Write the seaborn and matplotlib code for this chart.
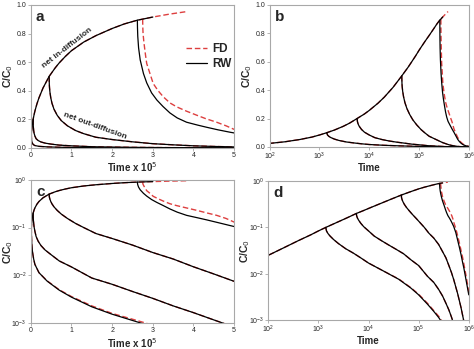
import pandas as pd
import matplotlib
matplotlib.use("Agg")
import matplotlib.pyplot as plt
import seaborn as sns
from matplotlib.lines import Line2D
from matplotlib.ticker import NullLocator

# === Data (time, C/C0) ===
# net in-diffusion (RW)
in_t = [0.2, 1, 10, 30, 100, 200, 400, 700, 1000, 1400, 2000, 3000, 4000, 5700, 8000,
        1.0e4, 1.5e4, 2.0e4, 3.0e4, 4.5e4, 6.0e4, 7.0e4, 8.5e4, 1.0e5, 1.3e5, 1.6e5,
        2.0e5, 2.3e5, 2.62e5, 3.0e5]
in_c = [0.0011, 0.0023, 0.0075, 0.0133, 0.025, 0.036, 0.052, 0.069, 0.084, 0.100, 0.119,
        0.145, 0.167, 0.200, 0.232, 0.257, 0.308, 0.350, 0.419, 0.500, 0.560, 0.595,
        0.640, 0.680, 0.740, 0.785, 0.835, 0.867, 0.893, 0.915]
# FD in-diffusion runs a little longer
fd_in_t = in_t + [3.4e5, 3.83e5]
fd_in_c = in_c + [0.935, 0.953]

# out-diffusion branch 1 (stops at C = 0.1)
b1_t = [1400, 1450, 1550, 1700, 2000, 2500, 3500, 5000, 7000, 1.0e4, 2.0e4, 4.0e4, 7.0e4,
        1.0e5, 1.5e5, 2.0e5, 2.5e5, 2.8e5, 3.0e5, 5.0e5, 1.0e6]
b1_c = [0.100, 0.084, 0.074, 0.0655, 0.055, 0.045, 0.0347, 0.0278, 0.022, 0.017, 0.0114,
        0.0076, 0.0049, 0.0035, 0.0022, 0.00154, 0.00114, 0.00095, 0.00085, 0.0002, 0.00001]
fd1_c = [0.100, 0.084, 0.074, 0.0655, 0.055, 0.045, 0.0347, 0.0278, 0.022, 0.017, 0.0114,
         0.0077, 0.0050, 0.0036, 0.0023, 0.0016, 0.00121, 0.00102, 0.0009, 0.0002, 0.00001]

# branch 2 (stops at C = 0.2)
b2_t = [5700, 5800, 6000, 6300, 7000, 8000, 1.0e4, 1.3e4, 1.8e4, 2.5e4, 3.5e4, 5.0e4, 7.0e4,
        1.0e5, 1.5e5, 2.0e5, 2.5e5, 3.0e5, 3.5e5, 4.0e5, 4.5e5, 5.0e5, 6.0e5, 1.0e6]
b2_c = [0.200, 0.177, 0.160, 0.145, 0.123, 0.104, 0.084, 0.065, 0.052, 0.042, 0.034, 0.027,
        0.020, 0.015, 0.0088, 0.0065, 0.0046, 0.0033, 0.0023, 0.00166, 0.00117, 0.00083,
        0.00041, 0.00001]

# branch 3 (stops at C = 0.5)
b3_t = [4.5e4, 4.55e4, 4.6e4, 4.7e4, 4.9e4, 5.2e4, 5.7e4, 6.5e4, 7.5e4, 9.0e4, 1.1e5, 1.3e5,
        1.6e5, 2.0e5, 2.5e5, 3.0e5, 3.5e5, 4.0e5, 4.5e5, 5.0e5, 6.0e5, 7.0e5, 8.0e5, 9.0e5,
        1.0e6]
b3_c = [0.500, 0.444, 0.421, 0.391, 0.352, 0.313, 0.271, 0.228, 0.191, 0.155, 0.122, 0.100,
        0.075, 0.059, 0.043, 0.030, 0.022, 0.0151, 0.0107, 0.0075, 0.0037, 0.00186, 0.00092,
        0.00046, 0.00023]

# branch 4 (stops at C = 0.9), RW and FD differ here
b4_t = [2.62e5, 2.623e5, 2.63e5, 2.65e5, 2.69e5, 2.77e5, 2.85e5, 2.97e5, 3.1e5, 3.25e5,
        3.42e5, 3.6e5, 3.83e5, 4.1e5, 4.32e5, 4.6e5, 4.9e5, 5.0e5, 5.5e5, 6.0e5, 6.5e5,
        7.0e5, 7.5e5, 8.0e5, 9.0e5, 1.0e6]
b4_c = [0.893, 0.84, 0.78, 0.70, 0.615, 0.52, 0.455, 0.385, 0.335, 0.29, 0.245, 0.21, 0.18,
        0.16, 0.145, 0.127, 0.11, 0.105, 0.078, 0.053, 0.037, 0.026, 0.018, 0.013, 0.0065,
        0.0035]
fd4_t = [2.75e5, 2.753e5, 2.76e5, 2.78e5, 2.82e5, 2.85e5, 2.93e5, 3.01e5, 3.13e5, 3.26e5,
         3.42e5, 3.59e5, 3.83e5, 4.08e5, 4.3e5, 4.57e5, 4.8e5, 5.0e5, 5.5e5, 6.0e5, 6.5e5,
         7.0e5, 7.5e5, 8.0e5, 9.0e5, 1.0e6]
fd4_c = [0.90, 0.85, 0.80, 0.74, 0.65, 0.59, 0.52, 0.45, 0.40, 0.357, 0.315, 0.287, 0.257,
         0.229, 0.205, 0.18, 0.155, 0.13, 0.095, 0.066, 0.046, 0.032, 0.023, 0.016, 0.008,
         0.004]

# === Long table ===
rows = []
def add(model, name, ts, cs):
    for t, c in zip(ts, cs):
        rows.append({"model": model, "curve": name, "time": t, "conc": c})

add("FD", "in", fd_in_t, fd_in_c)
add("FD", "b1", b1_t, fd1_c)
add("FD", "b2", b2_t, b2_c)
add("FD", "b3", b3_t, b3_c)
add("FD", "b4", fd4_t, fd4_c)
add("RW", "in", in_t, in_c)
add("RW", "b1", b1_t, b1_c)
add("RW", "b2", b2_t, b2_c)
add("RW", "b3", b3_t, b3_c)
add("RW", "b4", b4_t, b4_c)
df = pd.DataFrame(rows)
df["time5"] = df["time"] / 1e5

# === Style ===
sns.set_theme(style="white")
plt.rcParams["font.family"] = ["Liberation Sans", "DejaVu Sans"]
RED = "#dd3f3f"
GRAY = "#a8a8a8"

fig = plt.figure(figsize=(4.74, 3.49), dpi=100)
ax_a = fig.add_axes([0.065, 0.576, 0.429, 0.410])
ax_b = fig.add_axes([0.569, 0.579, 0.420, 0.407])
ax_c = fig.add_axes([0.065, 0.074, 0.429, 0.411])
ax_d = fig.add_axes([0.566, 0.083, 0.423, 0.398])


def draw(ax, xcol, logx, logy, xlab_y):
    fd = df[df["model"] == "FD"]
    rw = df[df["model"] == "RW"]
    sns.lineplot(data=fd, x=xcol, y="conc", units="curve", estimator=None, sort=False,
                 color=RED, linewidth=1.0, linestyle=(0, (4, 2)), legend=False, ax=ax)
    sns.lineplot(data=rw, x=xcol, y="conc", units="curve", estimator=None, sort=False,
                 color="black", linewidth=0.9, legend=False, ax=ax)
    if logx:
        ax.set_xscale("log")
        ax.set_xlim(1e2, 1e6)
        ax.xaxis.set_minor_locator(NullLocator())
        ax.set_xlabel("Time", fontsize=7, fontweight="bold")
    else:
        ax.set_xlim(0, 5)
        ax.set_xticks([0, 1, 2, 3, 4, 5])
        ax.set_xlabel("Time x 10$^5$", fontsize=7, fontweight="bold")
    if logy:
        ax.set_yscale("log")
        ax.set_ylim(1e-3, 1)
        ax.yaxis.set_minor_locator(NullLocator())
    else:
        ax.set_ylim(0, 1)
        ax.set_yticks([0, 0.2, 0.4, 0.6, 0.8, 1.0])
    ax.set_ylabel("C/C$_0$", fontsize=7.5, fontweight="bold")
    ax.yaxis.set_label_coords(-0.08, 0.5)
    ax.xaxis.set_label_coords(0.5, xlab_y)
    for s in ax.spines.values():
        s.set_color(GRAY)
        s.set_linewidth(0.8)
    ax.tick_params(direction="out", length=2, width=0.6, color=GRAY,
                   labelsize=5, pad=1, bottom=True, left=True)


draw(ax_a, "time5", False, False, -0.085)
draw(ax_b, "time", True, False, -0.11)
draw(ax_c, "time5", False, True, -0.088)
draw(ax_d, "time", True, True, -0.115)

for ax, letter in zip([ax_a, ax_b, ax_c, ax_d], "abcd"):
    ax.text(0.025, 0.965, letter, transform=ax.transAxes, va="top", ha="left",
            fontsize=11, fontweight="bold")

ax_a.text(0.9, 0.70, "net in-diffusion", rotation=38, fontsize=6, fontweight="bold",
          ha="center", va="center")
ax_a.text(1.57, 0.152, "net out-diffusion", rotation=-20, fontsize=6, fontweight="bold",
          ha="center", va="center")

handles = [Line2D([], [], color=RED, lw=1.0, linestyle=(0, (4, 2))),
           Line2D([], [], color="black", lw=0.9)]
ax_a.legend(handles, ["FD", "RW"], loc="center left", bbox_to_anchor=(0.725, 0.64),
            frameon=False, prop={"size": 8.5, "weight": "bold"}, handlelength=1.7,
            handletextpad=0.45, labelspacing=0.25, borderpad=0.2)

fig.savefig("out.png", dpi=100)
